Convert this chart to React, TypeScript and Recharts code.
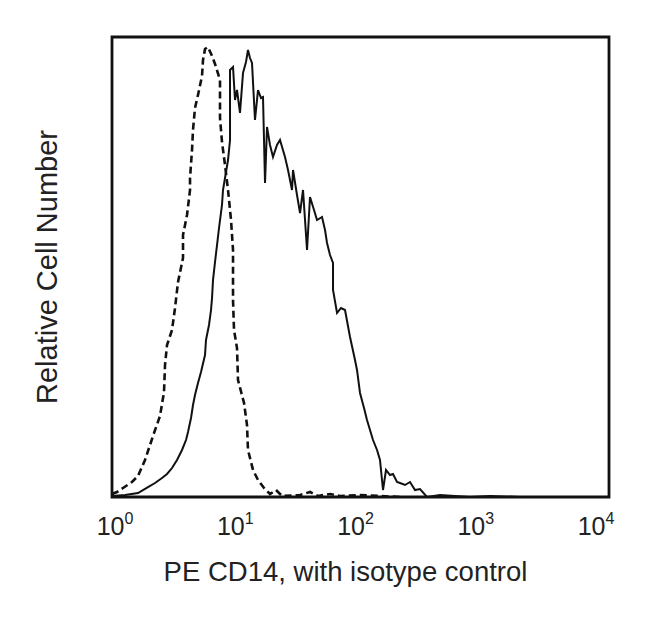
import { LineChart, Line, XAxis, YAxis, ReferenceArea, Label } from 'recharts';

// fluorescence (PE) channel values, log axis
const isotypeX = [
  0.944, 1.039, 1.166, 1.384, 1.553, 1.776, 2.07, 2.367, 2.556, 2.605, 2.707, 2.979, 3.155,
  3.342, 3.677, 3.677, 3.97, 4.205, 4.205, 4.369, 4.453, 4.626, 4.899, 5.29, 5.393, 5.603,
  5.934, 6.409, 6.787, 7.467, 7.467, 7.758, 8.217, 8.706, 9.22, 9.58, 9.58, 9.763, 10.34,
  10.54, 11.83, 12.52, 12.76, 14.05, 15.46, 17.34, 19.45, 21.83, 24.49, 34.56, 41.84, 48.77,
  61.37, 74.31, 109, 159.8, 234.5,
];
const isotypeY = [
  0.65, 1.09, 1.96, 3.26, 4.57, 8.04, 13.26, 17.61, 22.83, 28.7, 33.04, 36.3, 41.09,
  46.74, 51.96, 56.96, 61.3, 66.74, 69.35, 75.43, 79.78, 84.57, 87.39, 91.52, 95.0, 97.39,
  97.83, 95.87, 94.13, 90.65, 82.39, 77.17, 72.17, 66.74, 60.22, 53.7, 42.83, 36.3, 32.39,
  25.43, 20.43, 15.65, 10.22, 5.87, 3.7, 1.96, 0.65, 1.52, 0.22, 0.43, 1.09, 0.22,
  0.65, 0.22, 0.43, 0.22, 0,
];

const cd14X = [
  0.944, 1.211, 1.553, 1.881, 2.151, 2.46, 2.707, 2.979, 3.279, 3.608, 3.894, 4.047, 4.286,
  4.453, 4.626, 4.899, 5.191, 5.603, 5.711, 6.049, 6.286, 6.409, 6.531, 6.787, 7.052, 7.327,
  7.758, 7.908, 8.217, 8.706, 9.045, 9.045, 9.045, 9.58, 9.952, 10.34, 10.95, 11.6, 12.28,
  12.76, 13.26, 13.78, 14.59, 15.46, 16.37, 17.01, 17.68, 18.37, 19.45, 20.6, 22.24, 23.56,
  25.92, 27.46, 29.65, 30.22, 32.62, 34.56, 36.6, 39.52, 41.84, 45.18, 47.84, 52.65, 55.78,
  57.95, 61.37, 65.01, 65.01, 70.2, 75.75, 81.79, 90.01, 99.04, 102.9, 109, 117.7, 124.6,
  132, 139.8, 151, 159.8, 169.3, 179.3, 193.6, 205, 221.4, 234.5, 257.9, 283.9, 312.5,
  343.9, 393.2, 504.3, 672.2, 896, 1314, 2334,
];
const cd14Y = [
  0.22, 0.43, 0.87, 2.17, 3.04, 4.13, 5.0, 6.3, 8.04, 10.22, 12.39, 14.13, 17.17,
  20.0, 22.17, 24.78, 27.17, 30.87, 34.13, 37.39, 40.65, 43.26, 47.17, 51.09, 54.78, 58.48,
  63.48, 66.74, 69.35, 73.26, 77.61, 83.7, 92.83, 93.48, 86.3, 88.48, 83.48, 92.17, 94.57,
  97.17, 95.43, 94.35, 81.96, 88.48, 86.74, 86.96, 68.26, 80.43, 76.52, 73.91, 76.52, 77.61,
  73.91, 71.09, 66.74, 71.09, 65.65, 61.74, 66.74, 53.7, 65.22, 62.39, 60.22, 60.87, 58.04,
  55.22, 52.61, 50.87, 45.0, 40.0, 41.09, 40.65, 34.78, 29.78, 27.61, 22.61, 19.35, 16.74,
  14.57, 12.39, 10.22, 8.04, 1.52, 5.87, 4.78, 5.0, 3.26, 3.04, 2.61, 3.26, 1.52,
  1.74, 0, 0.43, 0.22, 0, 0.22, 0,
];

const xTicks = [1, 10, 100, 1000, 10000];
const xDomain = [0.944, 12823];

const isotype = isotypeX.map((x, i) => ({ x, y: isotypeY[i] }));
const cd14 = cd14X.map((x, i) => ({ x, y: cd14Y[i] }));

const font = '"Liberation Sans", Arial, sans-serif';

function PowerTick(props: any) {
  const { x, y, payload } = props;
  const exp = Math.round(Math.log10(payload.value));
  return (
    <text x={x} y={y + 30} textAnchor="middle" fill="#222" fontSize={25} fontFamily={font}>
      10
      <tspan dy={-11} fontSize={16}>{exp}</tspan>
    </text>
  );
}

export default function App() {
  return (
    <LineChart
      width={642}
      height={614}
      margin={{ top: 29, right: 41, left: 0, bottom: 85 }}
    >
      <XAxis
        type="number"
        dataKey="x"
        scale="log"
        domain={xDomain}
        allowDataOverflow
        ticks={xTicks}
        interval={0}
        tick={<PowerTick />}
        tickLine={false}
        axisLine={false}
        height={40}
      >
        <Label
          value="PE CD14, with isotype control"
          position="center"
          dx={-15}
          dy={54}
          fill="#222"
          fontSize={27.5}
          fontFamily={font}
        />
      </XAxis>
      <YAxis
        type="number"
        dataKey="y"
        domain={[0, 100]}
        allowDataOverflow
        tick={false}
        tickLine={false}
        axisLine={false}
        width={104}
      >
        <Label
          value="Relative Cell Number"
          angle={-90}
          position="center"
          dx={-13}
          fill="#222"
          fontSize={29}
          fontFamily={font}
        />
      </YAxis>
      <Line
        data={isotype}
        dataKey="y"
        type="linear"
        stroke="#111"
        strokeWidth={2.6}
        strokeDasharray="7 4"
        dot={false}
        isAnimationActive={false}
      />
      <Line
        data={cd14}
        dataKey="y"
        type="linear"
        stroke="#111"
        strokeWidth={2}
        dot={false}
        isAnimationActive={false}
      />
      <ReferenceArea
        x1={xDomain[0]}
        x2={xDomain[1]}
        y1={0}
        y2={100}
        fill="none"
        stroke="#111"
        strokeWidth={2.8}
      />
    </LineChart>
  );
}
